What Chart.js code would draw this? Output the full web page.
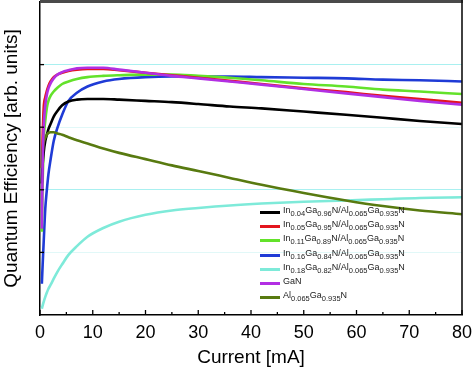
<!DOCTYPE html>
<html>
<head>
<meta charset="utf-8">
<script src="https://cdn.jsdelivr.net/npm/chart.js@4.4.1/dist/chart.umd.min.js"></script>
<style>
  html, body { margin: 0; padding: 0; background: #fff; }
  #wrap { position: relative; width: 474px; height: 369px; }
  #legend { position: absolute; left: 258px; top: 205px; font-family: "Liberation Sans", Arial, sans-serif; color: #222; }
  .row { position: relative; height: 14.2px; white-space: nowrap; }
  .swatch { position: absolute; left: 2px; top: 6px; width: 20px; height: 3px; }
  .txt { position: absolute; left: 25px; top: 0px; font-size: 9px; line-height: 10px; }
  .txt sub { font-size: 7.5px; vertical-align: -3px; line-height: 0; }
</style>
</head>
<body>
<div id="wrap">
  <canvas id="c" width="474" height="369"></canvas>
  <div id="legend"></div>
</div>
<script>
// ---- Data ----
const current = [0.35, 0.5, 0.7, 1.0, 1.3, 1.6, 2.0, 2.6, 3.3, 4.2, 5.4, 7, 9, 12, 15, 20, 25, 30, 36, 42, 50, 58, 65, 72, 80];

const in004 = [2.1, 2.4, 2.6, 2.78, 2.88, 2.97, 3.05, 3.17, 3.26, 3.35, 3.41, 3.44, 3.45, 3.45, 3.44, 3.42, 3.40, 3.37, 3.33, 3.30, 3.25, 3.20, 3.15, 3.10, 3.05];
const in005 = [2.35, 2.85, 3.31, 3.48, 3.58, 3.66, 3.73, 3.80, 3.84, 3.87, 3.90, 3.92, 3.93, 3.93, 3.91, 3.87, 3.83, 3.79, 3.74, 3.69, 3.62, 3.56, 3.50, 3.45, 3.39];
const in011 = [1.33, 2.1, 2.78, 3.10, 3.31, 3.42, 3.50, 3.57, 3.63, 3.69, 3.73, 3.77, 3.80, 3.82, 3.83, 3.84, 3.84, 3.82, 3.79, 3.75, 3.69, 3.65, 3.60, 3.57, 3.53];
const in016 = [0.5, 0.8, 1.17, 1.7, 2.0, 2.25, 2.48, 2.78, 2.99, 3.20, 3.42, 3.55, 3.65, 3.73, 3.77, 3.80, 3.81, 3.81, 3.81, 3.80, 3.79, 3.78, 3.76, 3.75, 3.73];
const in018 = [0.1, 0.15, 0.21, 0.29, 0.36, 0.42, 0.48, 0.58, 0.69, 0.81, 0.96, 1.10, 1.25, 1.39, 1.49, 1.60, 1.67, 1.71, 1.75, 1.78, 1.81, 1.83, 1.85, 1.87, 1.88];
const gan   = [1.38, 2.4, 3.0, 3.35, 3.52, 3.62, 3.70, 3.78, 3.84, 3.88, 3.91, 3.94, 3.95, 3.95, 3.92, 3.87, 3.82, 3.78, 3.73, 3.68, 3.61, 3.54, 3.48, 3.42, 3.36];
const algan = [2.35, 2.6, 2.75, 2.83, 2.88, 2.91, 2.92, 2.92, 2.90, 2.88, 2.84, 2.79, 2.74, 2.66, 2.59, 2.49, 2.39, 2.30, 2.19, 2.08, 1.95, 1.83, 1.74, 1.67, 1.61];

const seriesLabels = [
  "In_{0.04}Ga_{0.96}N/Al_{0.065}Ga_{0.935}N",
  "In_{0.05}Ga_{0.95}N/Al_{0.065}Ga_{0.935}N",
  "In_{0.11}Ga_{0.89}N/Al_{0.065}Ga_{0.935}N",
  "In_{0.16}Ga_{0.84}N/Al_{0.065}Ga_{0.935}N",
  "In_{0.18}Ga_{0.82}N/Al_{0.065}Ga_{0.935}N",
  "GaN",
  "Al_{0.065}Ga_{0.935}N"
];
const seriesValues = [in004, in005, in011, in016, in018, gan, algan];
const seriesColors = ["#000000", "#e3151e", "#63e22a", "#1f3bd6", "#7eead9", "#b22fe3", "#587a10"];
const drawOrder = [1, 1, 1, 1, 1, 0, 0];

const xTickLabels = [0, 10, 20, 30, 40, 50, 60, 70, 80];
const yTickValues = [0, 1, 2, 3, 4, 5];

// ---- Build datasets ----
const datasets = seriesValues.map((vals, i) => ({
  label: seriesLabels[i].replace(/[_{}]/g, ""),
  data: current.map((x, j) => ({ x: x, y: vals[j] })).filter(p => p.y !== null),
  borderColor: seriesColors[i],
  backgroundColor: seriesColors[i],
  borderWidth: 2.6,
  pointRadius: 0,
  fill: false,
  cubicInterpolationMode: "monotone",
  order: drawOrder[i]
}));

const FONT = "'Liberation Sans', Arial, sans-serif";

const frame = {
  id: "frame",
  afterDraw(chart) {
    const ctx = chart.ctx;
    const a = chart.chartArea;
    const xs = chart.scales.x, ys = chart.scales.y;
    ctx.save();
    ctx.fillStyle = "#4a4a4a";
    ctx.fillRect(a.left, 0, a.right - a.left + 1, 3);
    ctx.strokeStyle = "#111";
    ctx.lineWidth = 1.6;
    ctx.beginPath();
    ctx.moveTo(a.right, 0);
    ctx.lineTo(a.right, a.bottom);
    ctx.stroke();
    ctx.lineWidth = 1.3;
    ctx.strokeStyle = "#000";
    for (let v = 0; v <= 80; v += 5) {
      const px = xs.getPixelForValue(v);
      const len = (v % 10 === 0) ? 5 : 3;
      ctx.beginPath();
      ctx.moveTo(px, a.bottom);
      ctx.lineTo(px, a.bottom - len);
      ctx.stroke();
    }
    yTickValues.forEach(v => {
      if (v === 0 || v === 5) return;
      const py = ys.getPixelForValue(v);
      ctx.beginPath();
      ctx.moveTo(a.left, py);
      ctx.lineTo(a.left + 4, py);
      ctx.stroke();
    });
    ctx.restore();
  }
};

const chart = new Chart(document.getElementById("c"), {
  type: "line",
  data: { datasets: datasets },
  options: {
    responsive: false,
    animation: false,
    layout: { padding: { top: 2, right: 12, bottom: 0, left: 0 } },
    plugins: { legend: { display: false }, tooltip: { enabled: false } },
    scales: {
      x: {
        type: "linear",
        min: 0, max: 80,
        afterBuildTicks: s => { s.ticks = xTickLabels.map(v => ({ value: v })); },
        ticks: { color: "#000", font: { family: FONT, size: 18 }, padding: 7, maxRotation: 0 },
        grid: { display: false, drawTicks: false },
        border: { display: true, color: "#000", width: 1.5 },
        title: { display: true, text: "Current [mA]", color: "#000", font: { family: FONT, size: 19, lineHeight: 1.2 }, padding: 0 },
        afterFit: s => { s.height = 54; s.paddingLeft = 0; s.paddingRight = 0; }
      },
      y: {
        type: "linear",
        min: 0, max: 5,
        afterBuildTicks: s => { s.ticks = yTickValues.map(v => ({ value: v })); },
        ticks: { display: false },
        grid: {
          drawTicks: false,
          lineWidth: 1,
          color: c => {
            const v = c.tick && c.tick.value;
            if (v === 0 || v === 5) return "rgba(0,0,0,0)";
            return (v % 2 === 0) ? "rgba(140,235,235,0.75)" : "rgba(200,242,242,0.55)";
          }
        },
        border: { display: true, color: "#000", width: 1.5 },
        title: { display: true, text: "Quantum Efficiency [arb. units]", color: "#000", font: { family: FONT, size: 19, lineHeight: 1.2 }, padding: 0 },
        afterFit: s => { s.width = 40; s.paddingTop = 0; s.paddingBottom = 0; }
      }
    }
  },
  plugins: [frame]
});

// ---- HTML legend with subscripts, built from the chart's datasets ----
const toHtml = s => s.replace(/_\{([^}]*)\}/g, "<sub>$1</sub>");
const legend = document.getElementById("legend");
chart.data.datasets.forEach((ds, i) => {
  const row = document.createElement("div");
  row.className = "row";
  const sw = document.createElement("div");
  sw.className = "swatch";
  sw.style.background = ds.borderColor;
  const t = document.createElement("div");
  t.className = "txt";
  t.innerHTML = toHtml(seriesLabels[i]);
  row.appendChild(sw);
  row.appendChild(t);
  legend.appendChild(row);
});
</script>
</body>
</html>
